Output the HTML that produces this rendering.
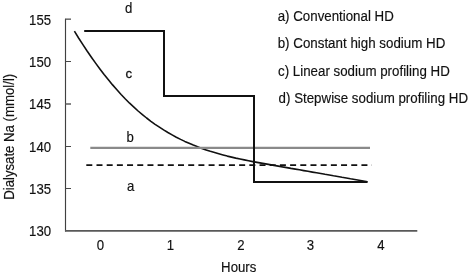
<!DOCTYPE html>
<html><head><meta charset="utf-8">
<style>
html,body{margin:0;padding:0;background:#fff;}
svg{display:block;}
text{font-family:"Liberation Sans",sans-serif;font-size:13.2px;fill:#111;stroke:#111;stroke-width:0.15px;}
</style></head>
<body>
<svg width="473" height="275" viewBox="0 0 473 275">
<rect width="473" height="275" fill="#fff"/>
<g fill="none">
<path d="M65.5 18.6 V231.5" stroke="#404040" stroke-width="1.15"/>
<path d="M65 230.9 H417.3" stroke="#585858" stroke-width="1.8"/>
<path d="M65.5 19.15 H71" stroke="#505050" stroke-width="1.3"/>
<path d="M65.5 61.5 H71 M65.5 146.5 H71 M65.5 188.5 H71" stroke="#484848" stroke-width="1"/>
<path d="M65.5 104 H71" stroke="#5c5c5c" stroke-width="1.5"/>
</g>
<path d="M74.4 31.2 L78.6 38.0 L82.9 44.6 L87.1 51.0 L91.4 57.2 L95.6 63.1 L99.9 68.9 L104.1 74.5 L108.4 79.8 L112.6 84.9 L116.9 89.8 L121.1 94.5 L125.4 99.0 L129.6 103.2 L133.9 107.2 L138.1 111.0 L142.4 114.6 L146.6 118.0 L150.9 121.3 L155.1 124.3 L159.4 127.2 L163.6 129.9 L167.9 132.5 L172.1 134.9 L176.3 137.2 L180.6 139.4 L184.8 141.4 L189.1 143.3 L193.3 145.1 L197.6 146.8 L201.8 148.4 L206.1 149.9 L210.3 151.3 L214.6 152.6 L218.8 153.8 L223.1 155.0 L227.3 156.1 L231.6 157.1 L235.8 158.1 L240.1 159.0 L244.3 159.9 L248.6 160.8 L252.8 161.6 L257.1 162.4 L261.3 163.1 L265.6 163.9 L269.8 164.6 L274.0 165.4 L278.3 166.1 L282.5 166.9 L286.8 167.6 L291.0 168.4 L295.3 169.1 L299.5 169.8 L303.8 170.6 L308.0 171.3 L312.3 172.1 L316.5 172.8 L320.8 173.5 L325.0 174.3 L329.3 175.0 L333.5 175.8 L337.8 176.5 L342.0 177.3 L346.3 178.0 L350.5 178.8 L354.8 179.5 L359.0 180.3 L363.3 181.1 L367.5 181.8" stroke="#111" stroke-width="1.6" fill="none" stroke-linejoin="round"/>
<path d="M90.3 147.85 H370" stroke="#8a8a8a" stroke-width="2.1" fill="none"/>
<path d="M86.3 165.2 H371.8" stroke="#111" stroke-width="1.75" stroke-dasharray="6 4.19" fill="none"/>
<path d="M84.2 31 H164 V96.05 H254 V182 H367.5" stroke="#111" stroke-width="2" fill="none" stroke-linejoin="miter"/>
<text transform="translate(51.1,24.7) scale(1,1.07)" text-anchor="end" font-size="12.9">155</text>
<text transform="translate(51.1,67.0) scale(1,1.07)" text-anchor="end" font-size="12.9">150</text>
<text transform="translate(51.1,109.4) scale(1,1.07)" text-anchor="end" font-size="12.9">145</text>
<text transform="translate(51.1,151.70000000000002) scale(1,1.07)" text-anchor="end" font-size="12.9">140</text>
<text transform="translate(51.1,194.1) scale(1,1.07)" text-anchor="end" font-size="12.9">135</text>
<text transform="translate(51.1,236.4) scale(1,1.07)" text-anchor="end" font-size="12.9">130</text>
<text transform="translate(100.5,249.6) scale(1,1.05)" text-anchor="middle">0</text>
<text transform="translate(170.5,249.6) scale(1,1.05)" text-anchor="middle">1</text>
<text transform="translate(241,249.6) scale(1,1.05)" text-anchor="middle">2</text>
<text transform="translate(310.3,249.6) scale(1,1.05)" text-anchor="middle">3</text>
<text transform="translate(380.8,249.6) scale(1,1.05)" text-anchor="middle">4</text>
<text transform="translate(238.7,272.2) scale(1,1.07)" text-anchor="middle">Hours</text>
<text transform="translate(14.3,136.8) rotate(-90) scale(1,1.07)" text-anchor="middle" font-size="13.1">Dialysate Na (mmol/l)</text>
<text transform="translate(128.6,13.2) scale(1,1.04)" text-anchor="middle">d</text>
<text transform="translate(128.8,77.5) scale(1,1.0)" text-anchor="middle" font-size="13.8" style="stroke-width:0.3px">c</text>
<text transform="translate(130.1,141.9) scale(1,1.04)" text-anchor="middle">b</text>
<text transform="translate(130.7,190.7) scale(1,1.04)" text-anchor="middle">a</text>
<text transform="translate(277.7,20.5) scale(1,1.07)" textLength="116.1" lengthAdjust="spacingAndGlyphs">a) Conventional HD</text>
<text transform="translate(277.7,48.1) scale(1,1.07)" textLength="167.6" lengthAdjust="spacingAndGlyphs">b) Constant high sodium HD</text>
<text transform="translate(278.0,75.8) scale(1,1.07)" textLength="171.8" lengthAdjust="spacingAndGlyphs">c) Linear sodium profiling HD</text>
<text transform="translate(278.6,103.4) scale(1,1.07)" textLength="189.4" lengthAdjust="spacingAndGlyphs">d) Stepwise sodium profiling HD</text>
</svg>
</body></html>
